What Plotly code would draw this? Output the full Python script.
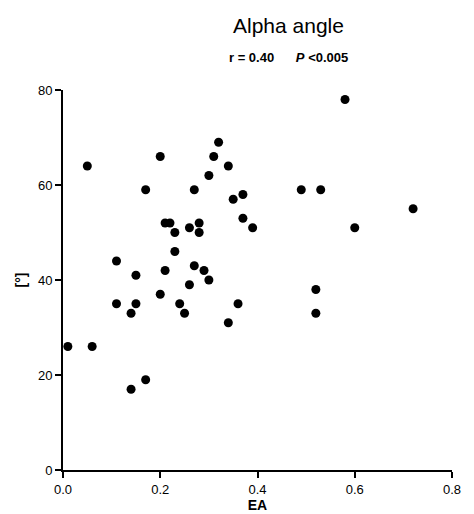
import plotly.graph_objects as go

# Data
ea = [0.01, 0.05, 0.06, 0.11, 0.11, 0.15, 0.15, 0.14, 0.14, 0.17, 0.17, 0.20, 0.20,
      0.21, 0.22, 0.21, 0.23, 0.23, 0.24, 0.25, 0.26, 0.26, 0.27, 0.27, 0.28, 0.28,
      0.29, 0.30, 0.30, 0.31, 0.32, 0.34, 0.34, 0.35, 0.36, 0.37, 0.37, 0.39,
      0.58, 0.49, 0.53, 0.72, 0.60, 0.52, 0.52]
alpha = [26, 64, 26, 44, 35, 41, 35, 33, 17, 19, 59, 66, 37,
         52, 52, 42, 50, 46, 35, 33, 39, 51, 59, 43, 52, 50,
         42, 40, 62, 66, 69, 64, 31, 57, 35, 58, 53, 51,
         78, 59, 59, 55, 51, 38, 33]

fig = go.Figure()
fig.add_trace(go.Scatter(x=ea, y=alpha, mode="markers",
                         marker=dict(color="black", size=9), showlegend=False))

axis_style = dict(showline=True, linecolor="black", linewidth=2, ticks="outside",
                  tickcolor="black", tickwidth=2, ticklen=6, showgrid=False, zeroline=False,
                  tickfont=dict(size=13, color="black", family="Liberation Sans"))

fig.update_xaxes(range=[0, 0.8], dtick=0.2, tickformat=".1f",
                 title=dict(text="<b>EA</b>", font=dict(size=14, color="black"), standoff=4),
                 **axis_style)
fig.update_yaxes(range=[0, 80], dtick=20,
                 title=dict(text="<b>[°]</b>", font=dict(size=14, color="black"), standoff=8),
                 **axis_style)

# Title and statistics line
fig.add_annotation(text="Alpha angle", x=0.58, y=1.17, xref="paper", yref="paper",
                   xanchor="center", yanchor="middle", showarrow=False,
                   font=dict(size=21, color="black"))
fig.add_annotation(text="<b>r = 0.40      <i>P</i> &lt;0.005</b>", x=0.58, y=1.085,
                   xref="paper", yref="paper", xanchor="center", yanchor="middle",
                   showarrow=False, font=dict(size=13, color="black"))

fig.update_layout(
    width=474, height=514,
    margin=dict(l=55, r=30, t=82, b=48),
    plot_bgcolor="white", paper_bgcolor="white",
    font=dict(family="Liberation Sans", color="black"),
)

fig.write_html("out.html")
